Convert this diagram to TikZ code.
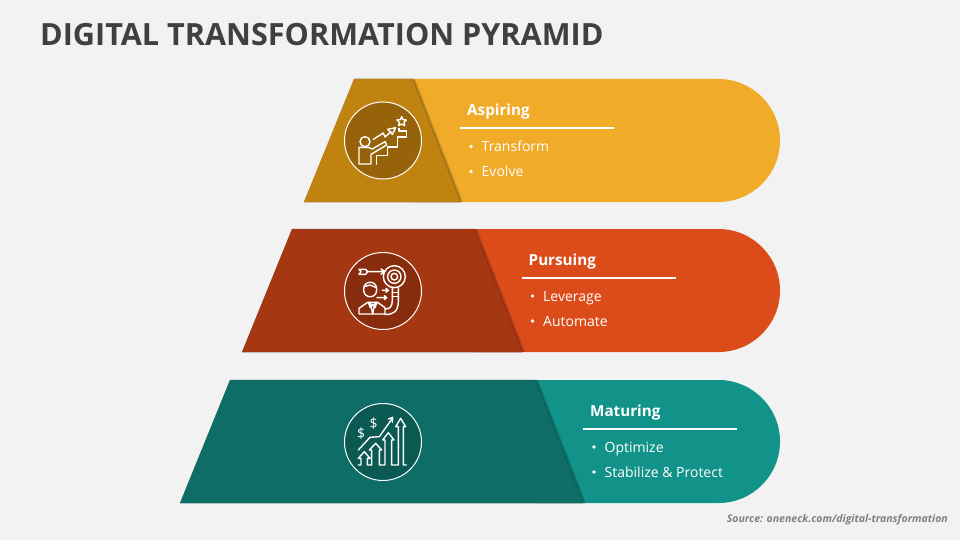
\documentclass[tikz,border=0pt]{standalone}
\usepackage{fontspec}
\setmainfont{Open Sans}
\definecolor{pagebg}{HTML}{F2F2F2}
\definecolor{amberL}{HTML}{F0AB28}\definecolor{amberD}{HTML}{C0830F}\definecolor{amberC}{HTML}{96630B}
\definecolor{rustL}{HTML}{DC4C1B}\definecolor{rustD}{HTML}{A53812}\definecolor{rustC}{HTML}{872D0E}
\definecolor{tealL}{HTML}{12938A}\definecolor{tealD}{HTML}{0E6E67}\definecolor{tealC}{HTML}{0A5A53}
\tikzset{
  x=1pt,y=-1pt,
  headtxt/.style={anchor=base west,text=white,font=\fontsize{15.2}{18}\selectfont\bfseries,inner sep=0},
  itemtxt/.style={anchor=base west,text=white,font=\fontsize{14}{16}\selectfont,inner sep=0},
  dot/.style={circle,fill=white,inner sep=0,minimum size=3.6pt},
  rule/.style={white,line width=2pt},
  ring/.style={draw=white,line width=1pt},
  ico/.style={draw=white,line width=1.4pt,line join=round,line cap=round},
}
% #1 top y, #2 top-left x, #3 top-right x, #4 light, #5 dark
\newcommand{\band}[5]{%
  \fill[#4] (#3,#1) -- (718.5,#1) arc[start angle=-90,end angle=90,radius=61.5,y=1pt] -- (#3,#1+123) -- cycle;
  \foreach \k in {1,...,4}{\fill[black,opacity=0.10] (#2,#1) -- (#3+\k*0.8,#1) -- (#3+48+\k*0.8,#1+123) -- (#2-50,#1+123) -- cycle;}
  \fill[black,opacity=0.10] (#2,#1-1) -- (#3,#1-1) -- (#3,#1) -- (#2,#1) -- cycle;
  \fill[black,opacity=0.10] (#2-50,#1+123) -- (#3+48,#1+123) -- (#3+48,#1+124.2) -- (#2-50,#1+124.2) -- cycle;
  \fill[#5] (#2,#1) -- (#3,#1) -- (#3+48,#1+123) -- (#2-50,#1+123) -- cycle;
}
\newcommand{\blocktext}[6]{% #1 name, #2 x-head, #3 top y, #4 head, #5 item1, #6 item2
  \node[headtxt] (#1h) at (#2,#3+36) {#4};
  \coordinate (#1a) at (#2-7,#3+49);
  \coordinate (#1b) at (#2+147,#3+49);
  \draw[rule] (#1a) -- (#1b);
  \node[dot] (#1d) at (#2+4,#3+67) {};
  \node[itemtxt] (#1i) at (#2+14.5,#3+72) {#5};
  \node[dot] (#1e) at (#2+4,#3+92) {};
  \node[itemtxt] (#1j) at (#2+14.5,#3+97) {#6};
}
\begin{document}
\begin{tikzpicture}
\useasboundingbox (0,0) rectangle (960,540);
\fill[pagebg] (0,0) rectangle (960,540);
\node[anchor=base west,inner sep=0,text=black!75,font=\fontsize{30.6}{32}\selectfont\bfseries] (title) at (40,46) {DIGITAL TRANSFORMATION PYRAMID};

\band{79}{354}{412}{amberL}{amberD}
\band{229}{292}{474}{rustL}{rustD}
\band{380}{230}{535}{tealL}{tealD}

\node[circle,ring,fill=amberC,minimum size=77pt,inner sep=0] (c1) at (383,140.5) {};
\node[circle,ring,fill=rustC,minimum size=77pt,inner sep=0] (c2) at (383,291) {};
\node[circle,ring,fill=tealC,minimum size=77pt,inner sep=0] (c3) at (383,442) {};

\blocktext{a}{467}{79.5}{Aspiring}{Transform}{Evolve}
\blocktext{b}{528.5}{229}{Pursuing}{Leverage}{Automate}
\blocktext{c}{590}{380}{Maturing}{Optimize}{Stabilize \& Protect}

% icon 1
\begin{scope}[shift={(335,95)},x=0.3333pt,y=-0.3333pt]
  \draw[ico] (90,140) circle[radius=15];
  \draw[ico] (72,207) -- (72,157) -- (100,157) -- (112,162) -- (150,140) -- (155,150) -- (108,178) -- (108,207) -- cycle;
  \draw[ico] (125,208) -- (125,182) -- (158,182) -- (158,156) -- (187,156) -- (187,126) -- (215,126) -- (215,108) -- (192,108) -- (192,100);
  \draw[ico] (200,65) -- (204,74) -- (214,75) -- (207,82) -- (209,92) -- (200,87) -- (191,92) -- (193,82) -- (186,75) -- (196,74) -- cycle;
  \draw[ico] (115,133) -- (145,114) -- (150,126) -- (168,110);
  \draw[ico] (158,103) -- (182,98) -- (172,118) -- cycle;
\end{scope}
% icon 2
\begin{scope}[shift={(335,245)},x=0.3333pt,y=-0.3333pt]
  \draw[ico] (178,95) circle[radius=33] (178,95) circle[radius=20] (178,95) circle[radius=10];
  \draw[ico] (95,80) -- (150,80) (150,80) -- (138,72) (150,80) -- (138,88);
  \draw[ico] (72,73) -- (92,73) -- (98,80) -- (92,88) -- (72,88) -- (78,80) -- cycle;
  \draw[ico] (172,128) -- (172,165) .. controls (172,185) and (165,192) .. (150,192);
  \draw[ico] (190,128) -- (190,170) .. controls (190,198) and (175,210) .. (150,208);
  \draw[ico] (172,142) -- (190,142) (172,155) -- (190,155);
  \draw[ico] (86,135) .. controls (83,105) and (127,103) .. (125,135) .. controls (125,162) and (86,162) .. (86,135);
  \draw[ico] (88,125) -- (105,120) -- (124,128);
  \draw[ico] (72,207) -- (72,190) -- (98,172) -- (128,172) -- (150,188) -- (150,207) -- cycle;
  \draw[ico] (106,172) -- (113,207) -- (120,172) (100,172) -- (106,188) -- (113,178) -- (120,188) -- (126,172);
  \draw[ico] (142,136) -- (160,136) (153,130) -- (160,136) -- (153,142);
  \draw[ico] (126,158) -- (155,158) (148,152) -- (155,158) -- (148,164);
\end{scope}
% icon 3
\begin{scope}[shift={(335,395)},x=0.3333pt,y=-0.3333pt]
  \draw[ico] (70,210) -- (78,210) -- (78,190) -- (70,190) -- (88,170) -- (105,190) -- (97,190) -- (97,210)
     -- (110,210) -- (110,165) -- (103,165) -- (122,145) -- (140,165) -- (133,165) -- (133,210)
     -- (150,210) -- (150,135) -- (143,135) -- (160,113) -- (177,135) -- (170,135) -- (170,210)
     -- (190,210) -- (190,95) -- (182,95) -- (197,70) -- (212,95) -- (205,95) -- (205,210) -- (214,210);
  \draw[ico] (70,165) -- (105,127) -- (133,125) -- (172,70);
  \draw[ico] (160,72) -- (173,67) -- (172,82);
\end{scope}
\node[text=white,inner sep=0,font=\fontsize{14}{14}\selectfont] (d1) at (361,433.5) {\$};
\node[text=white,inner sep=0,font=\fontsize{14}{14}\selectfont] (d2) at (373.7,423.5) {\$};

\node[anchor=base east,inner sep=0,text=black!50,font=\fontsize{10.5}{12}\selectfont\bfseries\itshape] (src) at (948,522) {Source: oneneck.com/digital-transformation};
\end{tikzpicture}
\end{document}
